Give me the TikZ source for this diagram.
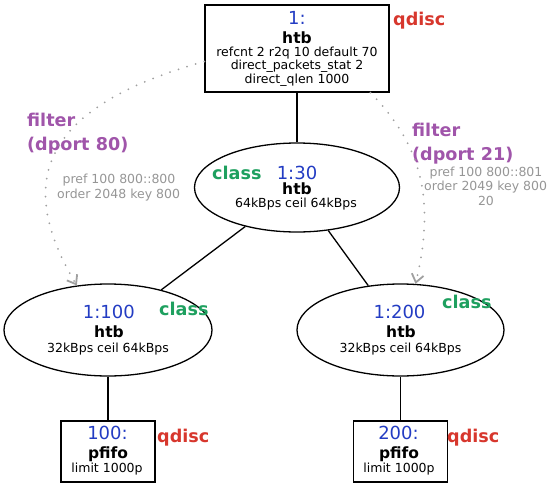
\documentclass[tikz,border=0pt]{standalone}
\usepackage{fontspec}
\setmainfont{DejaVu Sans}
\usetikzlibrary{positioning}
\usetikzlibrary{shapes.geometric,arrows.meta}

\definecolor{idblue}{RGB}{35,60,195}
\definecolor{classgreen}{RGB}{30,160,95}
\definecolor{qdiscred}{RGB}{215,55,45}
\definecolor{filterpurple}{RGB}{160,85,170}
\definecolor{notegray}{RGB}{150,150,150}
\definecolor{dotgray}{RGB}{160,160,160}

\begin{document}
\begin{tikzpicture}[x=1pt,y=-1pt,
	qbox/.style={draw,rectangle,line width=1.3pt,inner sep=0pt,minimum width=94pt,minimum height=61pt},
	cell/.style={draw,ellipse,line width=1.3pt,inner sep=0pt,minimum width=207pt,minimum height=92pt},
	idtxt/.style={anchor=base,inner sep=0pt,text=idblue,font=\fontsize{18}{18}\selectfont},
	kindtxt/.style={anchor=base,inner sep=0pt,font=\bfseries\fontsize{15.5}{15.5}\selectfont},
	dettxt/.style={anchor=base,inner sep=0pt,font=\fontsize{12.5}{12.5}\selectfont},
	tagtxt/.style={anchor=base west,inner sep=0pt,font=\bfseries\fontsize{17.6}{17.6}\selectfont},
	notetxt/.style={anchor=base,inner sep=0pt,text=notegray,font=\fontsize{12.5}{12.5}\selectfont},
	edge/.style={line width=1.3pt},
	filt/.style={draw=dotgray,line width=2pt,line cap=round,dash pattern=on 0pt off 9pt,
		-{Straight Barb[length=8pt,width=12pt,line width=1.8pt]}}]

	\useasboundingbox (0,0) rectangle (555,488);

	% shapes
	\node[qbox,minimum width=184pt,minimum height=87pt] (q1) at (297,48.5) {};
	\node[cell,minimum width=205pt,minimum height=89pt] (c130) at (297,187.5) {};
	\node[cell,minimum width=208pt] (c1100) at (108,330) {};
	\node[cell] (c1200) at (400.5,330) {};
	\node[qbox] (q100) at (108,451.5) {};
	\node[qbox] (q200) at (400.5,451.5) {};

	% root qdisc
	\node[idtxt] (q1id) at (297,24.3) {1:};
	\node[kindtxt] (q1kind) at (297,43.3) {htb};
	\node[dettxt] (q1d1) at (297,56) {refcnt 2 r2q 10 default 70};
	\node[dettxt] (q1d2) at (297,69.5) {direct\_packets\_stat 2};
	\node[dettxt] (q1d3) at (297,83) {direct\_qlen 1000};
	\node[tagtxt,text=qdiscred] (q1tag) at (393,25) {qdisc};

	% classes
	\node[idtxt] (c130id) at (297,179) {1:30};
	\node[kindtxt] (c130kind) at (297,194) {htb};
	\node[dettxt] (c130d) at (296,207) {64kBps ceil 64kBps};
	\node[tagtxt,text=classgreen] (c130tag) at (212,179) {class};

	\node[idtxt] (c1100id) at (108.8,318) {1:100};
	\node[kindtxt] (c1100kind) at (109,337.6) {htb};
	\node[dettxt] (c1100d) at (108,352.6) {32kBps ceil 64kBps};
	\node[tagtxt,text=classgreen] (c1100tag) at (159,315.5) {class};

	\node[idtxt] (c1200id) at (399.5,318) {1:200};
	\node[kindtxt] (c1200kind) at (401,337.6) {htb};
	\node[dettxt] (c1200d) at (400.5,352.6) {32kBps ceil 64kBps};
	\node[tagtxt,text=classgreen] (c1200tag) at (442,308.4) {class};

	% leaf qdiscs
	\node[idtxt] (q100id) at (107.5,439) {100:};
	\node[kindtxt] (q100kind) at (108,458) {pfifo};
	\node[dettxt] (q100d) at (107,472.7) {limit 1000p};
	\node[tagtxt,text=qdiscred] (q100tag) at (157,442.7) {qdisc};

	\node[idtxt] (q200id) at (398.5,439) {200:};
	\node[kindtxt] (q200kind) at (399,458) {pfifo};
	\node[dettxt] (q200d) at (399,472.7) {limit 1000p};
	\node[tagtxt,text=qdiscred] (q200tag) at (447,442.7) {qdisc};

	% filter labels
	\node[tagtxt,text=filterpurple] (f80a) at (27,126.7) {filter};
	\node[tagtxt,text=filterpurple] (f80b) at (27,150) {(dport 80)};
	\node[notetxt] (f80n1) at (119,183.3) {pref 100 800::800};
	\node[notetxt] (f80n2) at (118.6,198) {order 2048 key 800};

	\node[tagtxt,text=filterpurple] (f21a) at (412,136) {filter};
	\node[tagtxt,text=filterpurple] (f21b) at (412,160) {(dport 21)};
	\node[notetxt] (f21n1) at (486,176) {pref 100 800::801};
	\node[notetxt] (f21n2) at (485.6,190.7) {order 2049 key 800};
	\node[notetxt] (f21n3) at (486,205) {20};

	% tree
	\draw[edge] (q1) -- (c130);
	\draw[edge] (c130) -- (c1100);
	\draw[edge] (c130) -- (c1200);
	\draw[edge] (c1100) -- (q100);
	\draw[edge] (c1200) -- (q200);

	% filters
	\draw[filt] (q1.188) .. controls (30,110) and (20,190) .. (c1100.125);
	\draw[filt] (q1.-31) .. controls (419,143) and (436.6,195) .. (c1200.72);
\end{tikzpicture}
\end{document}
